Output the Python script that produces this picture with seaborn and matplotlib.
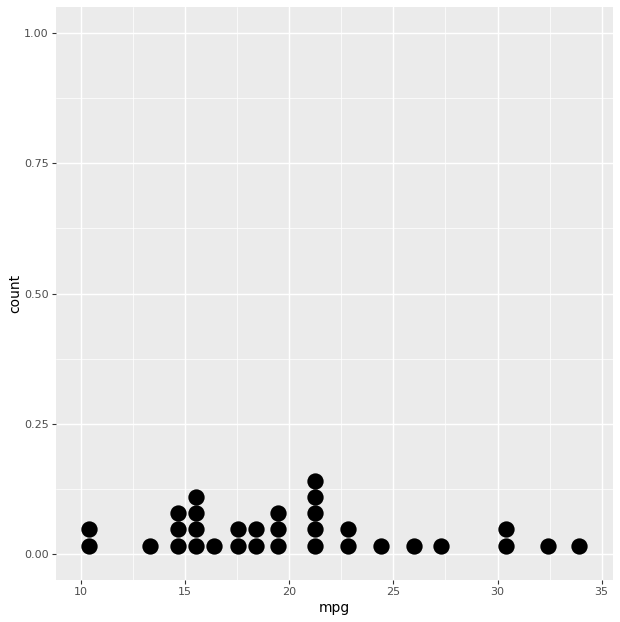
import numpy as np
import pandas as pd
import matplotlib
matplotlib.use('Agg')
import matplotlib.pyplot as plt
import seaborn as sns

# dot plot of mpg (bin centres and how many cars fall in each bin)
bin_centers = [10.4, 13.3, 14.65, 15.5, 16.4, 17.55, 18.4, 19.45, 21.25,
               22.8, 24.4, 26.0, 27.3, 30.4, 32.4, 33.9]
bin_counts = [2, 1, 3, 4, 1, 2, 2, 3, 5, 2, 1, 1, 1, 2, 1, 1]
binwidth = (33.9 - 10.4) / 30

x_ticks = [10, 15, 20, 25, 30, 35]
y_ticks = [0.0, 0.25, 0.5, 0.75, 1.0]
y_tick_labels = ['0.00', '0.25', '0.50', '0.75', '1.00']

sns.set_theme(style='darkgrid', rc={
    'axes.facecolor': '#EBEBEB',
    'grid.color': 'white',
    'axes.edgecolor': 'none',
})
plt.rcParams['font.family'] = ['DejaVu Sans']

DPI = 100
fig = plt.figure(figsize=(6.2, 6.22), dpi=DPI)
W, H = 620, 622
left, right, top, bottom = 56, 612.7, 7, 580
ax = fig.add_axes([left / W, (H - bottom) / H, (right - left) / W, (bottom - top) / H])

ax.set_xlim(8.8, 35.53)
ax.set_ylim(-0.05, 1.05)

# size of one dot in pixels, then in y data units
px_per_x = (right - left) / (35.53 - 8.8)
px_per_y = (bottom - top) / 1.10
dot_px = binwidth * px_per_x
dot_y = dot_px / px_per_y

rows = []
for c, n in zip(bin_centers, bin_counts):
    for k in range(n):
        rows.append({'mpg': c, 'count': (k + 0.5) * dot_y})
df = pd.DataFrame(rows)

dot_pt = dot_px * 72 / DPI
sns.scatterplot(data=df, x='mpg', y='count', ax=ax, color='black',
                s=dot_pt ** 2, linewidth=0, legend=False, zorder=3)

ax.set_xticks(x_ticks)
ax.set_xticklabels([str(t) for t in x_ticks])
ax.set_yticks(y_ticks)
ax.set_yticklabels(y_tick_labels)
ax.set_xticks([12.5, 17.5, 22.5, 27.5, 32.5], minor=True)
ax.set_yticks([0.125, 0.375, 0.625, 0.875], minor=True)
ax.grid(which='major', color='white', linewidth=1.07)
ax.grid(which='minor', color='white', linewidth=0.53)
ax.set_axisbelow(True)

ax.tick_params(axis='both', which='major', length=2.75, width=0.8, color='#333333',
               labelsize=8, labelcolor='#4D4D4D', pad=2.5, direction='out')
ax.tick_params(axis='both', which='minor', length=0)
ax.tick_params(axis='x', bottom=True)
ax.tick_params(axis='y', left=True)

ax.set_xlabel('mpg', fontsize=10, color='black', labelpad=3)
ax.set_ylabel('count', fontsize=10, color='black', labelpad=1.5)

for s in ax.spines.values():
    s.set_visible(False)

fig.savefig('out.png', dpi=DPI, facecolor='white')
